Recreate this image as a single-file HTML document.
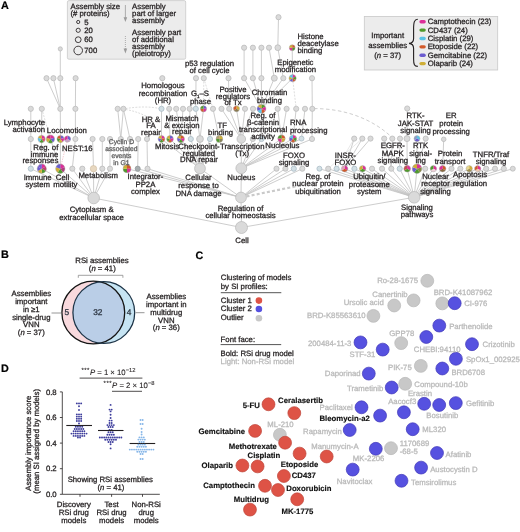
<!DOCTYPE html>
<html><head><meta charset="utf-8"><title>Figure</title><style>
html,body{margin:0;padding:0;background:#fff;}
body{width:520px;height:532px;overflow:hidden;}
svg{display:block;}
text{font-family:"Liberation Sans",Arial,Helvetica,sans-serif;font-size:7.75px;text-rendering:geometricPrecision;fill:#231f20;stroke:#231f20;stroke-width:0.28px;}
text.lab{font-size:10.8px;font-weight:bold;fill:#000;stroke:#000;stroke-width:0.2px;}
text.lt{fill:#b9b9b9;stroke:#b9b9b9;}
text.bd{font-weight:bold;fill:#111;stroke:#111;stroke-width:0.15px;}
text.pv{stroke-width:0.1px;}
text.vn{font-size:8.3px;fill:#2b3440;stroke:#2b3440;}
text.g6{fill:#606060;stroke:#606060;font-size:6.8px;}
.e{stroke:#c4c4c4;stroke-width:0.85;fill:none;}
.ef{stroke:#dadada;stroke-width:0.6;fill:none;}
.ep{stroke:#efb8c0;stroke-width:0.7;fill:none;stroke-dasharray:1.5 1;}
.ed{stroke:#cfcfcf;stroke-width:0.7;fill:none;stroke-dasharray:2 1.3;}
.ed2{stroke:#c8c8c8;stroke-width:0.9;fill:none;stroke-dasharray:3.5 2.5;}
.edt{stroke:#cacaca;stroke-width:2.2;fill:none;stroke-dasharray:3 2.2;}
.n{fill:#dadada;stroke:#b9b9b9;stroke-width:0.75;}
.nb{fill:#d3e0e5;stroke:#a8bac4;stroke-width:0.75;}
.nt{fill:#e8d8c0;stroke:#cdbba0;stroke-width:0.6;}
.nd{fill:#a8aeb0;stroke:#8a9092;stroke-width:0.6;}
.pr{fill:none;stroke:#9a9a9a;stroke-width:0.4;}
.box{fill:#ececec;stroke:#c9c9c9;stroke-width:0.8;}
.lc{fill:none;stroke:#231f20;stroke-width:0.85;}
.ar{stroke:#9a9a9a;stroke-width:0.8;}
.ard{stroke:#9a9a9a;stroke-width:0.8;stroke-dasharray:1 1;}
.brace{fill:none;stroke:#231f20;stroke-width:1.1;}
.brk{fill:none;stroke:#8a8a8a;stroke-width:0.8;}
.bl{stroke:#8a8a8a;stroke-width:0.9;}
.ul{stroke:#555;stroke-width:1;}
.ax{stroke:#231f20;stroke-width:0.8;}
.med{stroke:#231f20;stroke-width:1.1;}
</style></head>
<body><svg width="520" height="532" viewBox="0 0 520 532">
<rect width="520" height="532" fill="#fff"/>
<text x="0.9" y="8.9" class="lab">A</text>
<g>
<line x1="278.5" y1="17.2" x2="277.8" y2="47.7" class="e"/>
<line x1="60.3" y1="48.9" x2="60.3" y2="78.2" class="e"/>
<line x1="244.1" y1="47.7" x2="244.1" y2="78.2" class="e"/>
<line x1="252.9" y1="47.7" x2="252.9" y2="78.2" class="e"/>
<line x1="261.4" y1="47.7" x2="261.4" y2="78.2" class="e"/>
<line x1="269.0" y1="47.7" x2="274.3" y2="78.2" class="e"/>
<line x1="277.8" y1="47.7" x2="283.3" y2="78.2" class="e"/>
<line x1="292.2" y1="47.7" x2="292.6" y2="78.2" class="e"/>
<line x1="46.5" y1="78.2" x2="60.3" y2="108.8" class="e"/>
<line x1="53.4" y1="78.2" x2="60.3" y2="108.8" class="e"/>
<line x1="60.3" y1="78.2" x2="60.3" y2="108.8" class="e"/>
<line x1="75.6" y1="78.2" x2="75.4" y2="108.8" class="e"/>
<line x1="162.3" y1="78.2" x2="161.5" y2="108.8" class="ef"/>
<line x1="196.0" y1="78.2" x2="195.8" y2="108.8" class="e"/>
<line x1="203.8" y1="78.2" x2="203.5" y2="108.8" class="ed"/>
<line x1="203.8" y1="78.2" x2="213.0" y2="108.8" class="ed"/>
<line x1="228.5" y1="78.2" x2="229.2" y2="108.8" class="e"/>
<line x1="244.1" y1="78.2" x2="261.5" y2="108.8" class="e"/>
<line x1="252.9" y1="78.2" x2="261.5" y2="108.8" class="e"/>
<line x1="261.4" y1="78.2" x2="261.5" y2="108.8" class="e"/>
<line x1="274.3" y1="78.2" x2="261.5" y2="108.8" class="e"/>
<line x1="283.3" y1="78.2" x2="261.5" y2="108.8" class="e"/>
<line x1="292.6" y1="78.2" x2="261.5" y2="108.8" class="e"/>
<line x1="292.6" y1="78.2" x2="296.2" y2="108.8" class="ed"/>
<line x1="312.0" y1="78.2" x2="312.3" y2="108.8" class="e"/>
<line x1="30.8" y1="108.8" x2="30.8" y2="139.0" class="e"/>
<line x1="41.8" y1="108.8" x2="41.6" y2="139.0" class="e"/>
<line x1="41.8" y1="108.8" x2="50.4" y2="139.0" class="ed"/>
<line x1="60.3" y1="108.8" x2="60.5" y2="139.0" class="e"/>
<line x1="75.4" y1="108.8" x2="75.4" y2="139.0" class="e"/>
<line x1="117.7" y1="108.8" x2="120.8" y2="139.0" class="e"/>
<line x1="123.4" y1="108.8" x2="120.8" y2="139.0" class="e"/>
<line x1="123.4" y1="108.8" x2="130.0" y2="139.0" class="e"/>
<line x1="161.5" y1="108.8" x2="161.5" y2="139.0" class="e"/>
<line x1="169.2" y1="108.8" x2="170.0" y2="139.0" class="e"/>
<line x1="176.2" y1="108.8" x2="180.8" y2="139.0" class="e"/>
<line x1="183.0" y1="108.8" x2="180.8" y2="139.0" class="e"/>
<line x1="189.7" y1="108.8" x2="190.8" y2="139.0" class="e"/>
<line x1="195.8" y1="108.8" x2="200.0" y2="139.0" class="e"/>
<line x1="203.5" y1="108.8" x2="200.0" y2="139.0" class="e"/>
<line x1="213.0" y1="108.8" x2="219.4" y2="139.0" class="e"/>
<line x1="221.5" y1="108.8" x2="241.3" y2="139.0" class="e"/>
<line x1="229.2" y1="108.8" x2="241.3" y2="139.0" class="e"/>
<line x1="236.5" y1="108.8" x2="241.3" y2="139.0" class="e"/>
<line x1="245.0" y1="108.8" x2="241.3" y2="139.0" class="e"/>
<line x1="253.0" y1="108.8" x2="241.3" y2="139.0" class="e"/>
<line x1="261.5" y1="108.8" x2="261.5" y2="139.0" class="e"/>
<line x1="277.7" y1="108.8" x2="281.5" y2="138.6" class="e"/>
<line x1="286.6" y1="108.8" x2="281.5" y2="138.6" class="e"/>
<line x1="296.2" y1="108.8" x2="293.0" y2="138.6" class="e"/>
<line x1="305.0" y1="108.8" x2="301.5" y2="138.6" class="e"/>
<line x1="312.3" y1="108.8" x2="312.0" y2="139.0" class="e"/>
<line x1="407.2" y1="108.5" x2="407.0" y2="138.6" class="e"/>
<line x1="443.7" y1="139.3" x2="442.6" y2="168.7" class="e"/>
<line x1="354.2" y1="138.6" x2="336.6" y2="168.7" class="ef"/>
<line x1="354.2" y1="138.6" x2="344.6" y2="168.7" class="e"/>
<line x1="362.3" y1="138.6" x2="344.6" y2="168.7" class="e"/>
<line x1="370.5" y1="138.6" x2="344.6" y2="168.7" class="e"/>
<line x1="362.3" y1="138.6" x2="328.2" y2="168.7" class="ef"/>
<line x1="384.2" y1="138.6" x2="391.3" y2="168.7" class="e"/>
<line x1="392.3" y1="138.6" x2="391.3" y2="168.7" class="e"/>
<line x1="400.0" y1="138.6" x2="399.7" y2="168.7" class="e"/>
<line x1="407.0" y1="138.6" x2="407.2" y2="168.7" class="e"/>
<line x1="417.0" y1="138.6" x2="417.0" y2="168.7" class="e"/>
<line x1="425.7" y1="138.6" x2="417.0" y2="168.7" class="e"/>
<line x1="30.8" y1="139.0" x2="30.8" y2="168.7" class="e"/>
<line x1="41.6" y1="139.0" x2="41.8" y2="168.7" class="e"/>
<line x1="50.4" y1="139.0" x2="60.3" y2="168.7" class="e"/>
<line x1="60.5" y1="139.0" x2="60.3" y2="168.7" class="e"/>
<line x1="67.5" y1="139.0" x2="60.3" y2="168.7" class="ep"/>
<line x1="75.4" y1="139.0" x2="72.3" y2="168.7" class="e"/>
<line x1="92.6" y1="139.0" x2="93.5" y2="168.7" class="e"/>
<line x1="102.3" y1="139.0" x2="102.3" y2="168.7" class="e"/>
<line x1="110.0" y1="139.0" x2="110.0" y2="168.7" class="e"/>
<line x1="120.8" y1="139.0" x2="127.0" y2="168.7" class="e"/>
<line x1="130.0" y1="139.0" x2="127.0" y2="168.7" class="e"/>
<line x1="138.2" y1="139.0" x2="137.7" y2="168.7" class="e"/>
<line x1="147.0" y1="139.0" x2="147.5" y2="168.7" class="e"/>
<line x1="161.5" y1="139.0" x2="200.0" y2="168.5" class="e"/>
<line x1="170.0" y1="139.0" x2="200.0" y2="168.5" class="e"/>
<line x1="180.8" y1="139.0" x2="200.0" y2="168.5" class="e"/>
<line x1="190.8" y1="139.0" x2="200.0" y2="168.5" class="e"/>
<line x1="200.0" y1="139.0" x2="200.0" y2="168.5" class="e"/>
<line x1="210.0" y1="139.0" x2="200.0" y2="168.5" class="e"/>
<line x1="219.4" y1="139.0" x2="200.0" y2="168.5" class="e"/>
<line x1="241.3" y1="139.0" x2="241.3" y2="168.3" class="e"/>
<line x1="252.8" y1="139.0" x2="241.3" y2="168.3" class="e"/>
<line x1="261.5" y1="139.0" x2="241.3" y2="168.3" class="e"/>
<line x1="281.5" y1="138.6" x2="241.3" y2="168.3" class="e"/>
<line x1="293.0" y1="138.6" x2="241.3" y2="168.3" class="e"/>
<line x1="301.5" y1="138.6" x2="241.3" y2="168.3" class="e"/>
<line x1="312.0" y1="139.0" x2="241.3" y2="168.3" class="e"/>
<line x1="30.8" y1="168.7" x2="93.7" y2="198.0" class="e"/>
<line x1="41.8" y1="168.7" x2="93.7" y2="198.0" class="e"/>
<line x1="60.3" y1="168.7" x2="93.7" y2="198.0" class="e"/>
<line x1="72.3" y1="168.7" x2="93.7" y2="198.0" class="e"/>
<line x1="82.3" y1="168.7" x2="93.7" y2="198.0" class="e"/>
<line x1="93.5" y1="168.7" x2="93.7" y2="198.0" class="e"/>
<line x1="102.3" y1="168.7" x2="93.7" y2="198.0" class="e"/>
<line x1="110.0" y1="168.7" x2="93.7" y2="198.0" class="e"/>
<line x1="127.0" y1="168.7" x2="241.0" y2="197.5" class="e"/>
<line x1="137.7" y1="168.7" x2="241.0" y2="197.5" class="e"/>
<line x1="147.5" y1="168.7" x2="241.0" y2="197.5" class="e"/>
<line x1="276.5" y1="168.7" x2="241.0" y2="197.5" class="e"/>
<line x1="285.4" y1="168.7" x2="241.0" y2="197.5" class="e"/>
<line x1="293.8" y1="168.7" x2="241.0" y2="197.5" class="e"/>
<line x1="302.3" y1="168.7" x2="241.0" y2="197.5" class="e"/>
<line x1="200.0" y1="168.5" x2="241.0" y2="197.5" class="e"/>
<line x1="241.3" y1="168.3" x2="241.0" y2="197.5" class="e"/>
<line x1="319.4" y1="168.7" x2="414.2" y2="197.3" class="e"/>
<line x1="328.2" y1="168.7" x2="414.2" y2="197.3" class="e"/>
<line x1="336.6" y1="168.7" x2="414.2" y2="197.3" class="e"/>
<line x1="344.6" y1="168.7" x2="414.2" y2="197.3" class="e"/>
<line x1="354.4" y1="168.7" x2="414.2" y2="197.3" class="e"/>
<line x1="362.6" y1="168.7" x2="414.2" y2="197.3" class="e"/>
<line x1="372.0" y1="168.7" x2="414.2" y2="197.3" class="e"/>
<line x1="382.0" y1="168.7" x2="414.2" y2="197.3" class="e"/>
<line x1="391.3" y1="168.7" x2="414.2" y2="197.3" class="e"/>
<line x1="399.7" y1="168.7" x2="414.2" y2="197.3" class="e"/>
<line x1="407.2" y1="168.7" x2="414.2" y2="197.3" class="e"/>
<line x1="417.0" y1="168.7" x2="414.2" y2="197.3" class="e"/>
<line x1="425.2" y1="168.7" x2="414.2" y2="197.3" class="e"/>
<line x1="433.4" y1="168.7" x2="414.2" y2="197.3" class="e"/>
<line x1="442.6" y1="168.7" x2="414.2" y2="197.3" class="e"/>
<line x1="451.5" y1="168.7" x2="414.2" y2="197.3" class="e"/>
<line x1="460.3" y1="168.7" x2="414.2" y2="197.3" class="e"/>
<line x1="469.2" y1="168.7" x2="414.2" y2="197.3" class="e"/>
<line x1="477.7" y1="168.7" x2="414.2" y2="197.3" class="e"/>
<line x1="486.2" y1="168.7" x2="414.2" y2="197.3" class="e"/>
<line x1="495.0" y1="168.7" x2="414.2" y2="197.3" class="e"/>
<line x1="503.8" y1="168.7" x2="414.2" y2="197.3" class="e"/>
<line x1="512.8" y1="168.7" x2="414.2" y2="197.3" class="e"/>
<line x1="241.0" y1="197.5" x2="241.5" y2="227.5" class="e"/>
<line x1="93.7" y1="198.0" x2="241.5" y2="227.5" class="e"/>
<line x1="414.2" y1="197.3" x2="241.5" y2="227.5" class="e"/>
<path d="M125.5 108.6 C 138 106.5, 150 106.5, 159 108.4" class="ed"/>
<path d="M125.5 109.5 C 135 111, 142 114, 150 118" class="ed"/>
<path d="M314 108.6 C 345 108.5, 372 119, 391 136.5" class="ed2"/>
<line x1="246.5" y1="196.4" x2="301" y2="185.3" class="edt"/>
</g>
<circle cx="278.5" cy="17.2" r="2.60" class="n"/>
<circle cx="60.3" cy="48.9" r="2.10" class="n"/>
<circle cx="244.1" cy="47.7" r="2.60" class="n"/>
<circle cx="252.9" cy="47.7" r="2.60" class="n"/>
<circle cx="261.4" cy="47.7" r="2.60" class="n"/>
<circle cx="269.0" cy="47.7" r="2.60" class="n"/>
<circle cx="277.8" cy="47.7" r="2.90" class="n"/>
<path d="M292.20 47.70L292.20 44.80A2.90 2.90 0 0 1 295.10 47.70Z" fill="#d25a2a"/>
<path d="M292.20 47.70L295.10 47.70A2.90 2.90 0 0 1 292.20 50.60Z" fill="#4f9a2c"/>
<path d="M292.20 47.70L292.20 50.60A2.90 2.90 0 0 1 289.30 47.70Z" fill="#dc2f98"/>
<path d="M292.20 47.70L289.30 47.70A2.90 2.90 0 0 1 292.20 44.80Z" fill="#cfae36"/>
<circle cx="292.2" cy="47.7" r="2.90" class="pr"/>
<circle cx="46.5" cy="78.2" r="2.60" class="n"/>
<circle cx="53.4" cy="78.2" r="2.60" class="n"/>
<circle cx="60.3" cy="78.2" r="2.60" class="n"/>
<circle cx="75.6" cy="78.2" r="2.60" class="n"/>
<circle cx="162.3" cy="78.2" r="2.60" class="n"/>
<circle cx="196.0" cy="78.2" r="2.60" class="n"/>
<circle cx="203.8" cy="78.2" r="2.60" class="n"/>
<circle cx="228.5" cy="78.2" r="2.60" class="n"/>
<circle cx="244.1" cy="78.2" r="2.60" class="n"/>
<circle cx="252.9" cy="78.2" r="2.60" class="n"/>
<circle cx="261.4" cy="78.2" r="2.60" class="n"/>
<circle cx="274.3" cy="78.2" r="3.00" class="n"/>
<circle cx="283.3" cy="78.2" r="2.60" class="n"/>
<path d="M292.60 78.20L292.60 74.60A3.60 3.60 0 0 1 295.72 76.40Z" fill="#dc2f98"/>
<path d="M292.60 78.20L295.72 76.40A3.60 3.60 0 0 1 295.72 80.00Z" fill="#4f9a2c"/>
<path d="M292.60 78.20L295.72 80.00A3.60 3.60 0 0 1 292.60 81.80Z" fill="#d25a2a"/>
<path d="M292.60 78.20L292.60 81.80A3.60 3.60 0 0 1 289.48 80.00Z" fill="#6b5ccf"/>
<path d="M292.60 78.20L289.48 80.00A3.60 3.60 0 0 1 289.48 76.40Z" fill="#cfae36"/>
<path d="M292.60 78.20L289.48 76.40A3.60 3.60 0 0 1 292.60 74.60Z" fill="#5ac4e6"/>
<circle cx="292.6" cy="78.2" r="3.60" class="pr"/>
<circle cx="312.0" cy="78.2" r="2.60" class="n"/>
<circle cx="30.8" cy="108.8" r="2.60" class="n"/>
<circle cx="41.8" cy="108.8" r="2.60" class="n"/>
<circle cx="60.3" cy="108.8" r="2.60" class="n"/>
<circle cx="75.4" cy="108.8" r="2.60" class="n"/>
<circle cx="117.7" cy="108.8" r="2.60" class="n"/>
<circle cx="123.4" cy="108.8" r="2.60" class="n"/>
<circle cx="161.5" cy="108.8" r="2.60" class="nb"/>
<circle cx="169.2" cy="108.8" r="2.60" class="n"/>
<circle cx="176.2" cy="108.8" r="2.60" class="n"/>
<circle cx="183.0" cy="108.8" r="2.60" class="n"/>
<circle cx="189.7" cy="108.8" r="2.60" class="n"/>
<circle cx="195.8" cy="108.8" r="2.60" class="nb"/>
<path d="M203.50 108.80L203.50 105.70A3.10 3.10 0 0 1 206.60 108.80Z" fill="#6b5ccf"/>
<path d="M203.50 108.80L206.60 108.80A3.10 3.10 0 0 1 203.50 111.90Z" fill="#dc2f98"/>
<path d="M203.50 108.80L203.50 111.90A3.10 3.10 0 0 1 200.40 108.80Z" fill="#d25a2a"/>
<path d="M203.50 108.80L200.40 108.80A3.10 3.10 0 0 1 203.50 105.70Z" fill="#4f9a2c"/>
<circle cx="203.5" cy="108.8" r="3.10" class="pr"/>
<circle cx="213.0" cy="108.8" r="2.60" class="n"/>
<circle cx="221.5" cy="108.8" r="2.60" class="n"/>
<circle cx="229.2" cy="108.8" r="2.60" class="n"/>
<path d="M236.50 108.80L236.50 105.80A3.00 3.00 0 0 1 239.10 110.30Z" fill="#cfae36"/>
<path d="M236.50 108.80L239.10 110.30A3.00 3.00 0 0 1 233.90 110.30Z" fill="#8a7a50"/>
<path d="M236.50 108.80L233.90 110.30A3.00 3.00 0 0 1 236.50 105.80Z" fill="#d25a2a"/>
<circle cx="236.5" cy="108.8" r="3.00" class="pr"/>
<circle cx="245.0" cy="108.8" r="2.60" class="n"/>
<circle cx="253.0" cy="108.8" r="2.60" class="n"/>
<path d="M261.50 108.80L261.50 104.40A4.40 4.40 0 0 1 265.31 106.60Z" fill="#4f9a2c"/>
<path d="M261.50 108.80L265.31 106.60A4.40 4.40 0 0 1 265.31 111.00Z" fill="#dc2f98"/>
<path d="M261.50 108.80L265.31 111.00A4.40 4.40 0 0 1 261.50 113.20Z" fill="#d25a2a"/>
<path d="M261.50 108.80L261.50 113.20A4.40 4.40 0 0 1 257.69 111.00Z" fill="#5ac4e6"/>
<path d="M261.50 108.80L257.69 111.00A4.40 4.40 0 0 1 257.69 106.60Z" fill="#6b5ccf"/>
<path d="M261.50 108.80L257.69 106.60A4.40 4.40 0 0 1 261.50 104.40Z" fill="#cfae36"/>
<circle cx="261.5" cy="108.8" r="4.40" class="pr"/>
<circle cx="277.7" cy="108.8" r="2.60" class="n"/>
<circle cx="286.6" cy="108.8" r="2.60" class="n"/>
<circle cx="296.2" cy="108.8" r="2.60" class="n"/>
<circle cx="305.0" cy="108.8" r="2.60" class="n"/>
<circle cx="312.3" cy="108.8" r="2.60" class="n"/>
<circle cx="407.2" cy="108.5" r="2.60" class="n"/>
<circle cx="30.8" cy="139.0" r="2.60" class="n"/>
<path d="M41.60 139.00L41.60 135.30A3.70 3.70 0 0 1 45.12 137.86Z" fill="#dc2f98"/>
<path d="M41.60 139.00L45.12 137.86A3.70 3.70 0 0 1 43.77 141.99Z" fill="#e05070"/>
<path d="M41.60 139.00L43.77 141.99A3.70 3.70 0 0 1 39.43 141.99Z" fill="#4f9a2c"/>
<path d="M41.60 139.00L39.43 141.99A3.70 3.70 0 0 1 38.08 137.86Z" fill="#5ac4e6"/>
<path d="M41.60 139.00L38.08 137.86A3.70 3.70 0 0 1 41.60 135.30Z" fill="#cfae36"/>
<circle cx="41.6" cy="139.0" r="3.70" class="pr"/>
<path d="M50.40 139.00L50.40 134.90A4.10 4.10 0 0 1 54.30 137.73Z" fill="#dc2f98"/>
<path d="M50.40 139.00L54.30 137.73A4.10 4.10 0 0 1 52.81 142.32Z" fill="#6b5ccf"/>
<path d="M50.40 139.00L52.81 142.32A4.10 4.10 0 0 1 47.99 142.32Z" fill="#4f9a2c"/>
<path d="M50.40 139.00L47.99 142.32A4.10 4.10 0 0 1 46.50 137.73Z" fill="#cfae36"/>
<path d="M50.40 139.00L46.50 137.73A4.10 4.10 0 0 1 50.40 134.90Z" fill="#c03070"/>
<circle cx="50.4" cy="139.0" r="4.10" class="pr"/>
<path d="M60.50 139.00L60.50 135.40A3.60 3.60 0 0 1 63.92 137.89Z" fill="#6b5ccf"/>
<path d="M60.50 139.00L63.92 137.89A3.60 3.60 0 0 1 62.62 141.91Z" fill="#dc2f98"/>
<path d="M60.50 139.00L62.62 141.91A3.60 3.60 0 0 1 58.38 141.91Z" fill="#cfae36"/>
<path d="M60.50 139.00L58.38 141.91A3.60 3.60 0 0 1 57.08 137.89Z" fill="#4f9a2c"/>
<path d="M60.50 139.00L57.08 137.89A3.60 3.60 0 0 1 60.50 135.40Z" fill="#d25a2a"/>
<circle cx="60.5" cy="139.0" r="3.60" class="pr"/>
<path d="M67.50 139.00L67.50 135.80A3.20 3.20 0 0 1 70.27 140.60Z" fill="#6b5ccf"/>
<path d="M67.50 139.00L70.27 140.60A3.20 3.20 0 0 1 64.73 140.60Z" fill="#c8a0c8"/>
<path d="M67.50 139.00L64.73 140.60A3.20 3.20 0 0 1 67.50 135.80Z" fill="#dc2f98"/>
<circle cx="67.5" cy="139.0" r="3.20" class="pr"/>
<circle cx="75.4" cy="139.0" r="2.60" class="n"/>
<circle cx="92.6" cy="139.0" r="2.60" class="n"/>
<circle cx="102.3" cy="139.0" r="2.60" class="n"/>
<circle cx="110.0" cy="139.0" r="2.60" class="n"/>
<circle cx="120.8" cy="139.0" r="2.60" class="n"/>
<circle cx="130.0" cy="139.0" r="2.60" class="n"/>
<circle cx="138.2" cy="139.0" r="2.60" class="n"/>
<circle cx="147.0" cy="139.0" r="2.60" class="n"/>
<path d="M161.50 139.00L161.50 135.60A3.40 3.40 0 0 1 164.73 137.95Z" fill="#dc2f98"/>
<path d="M161.50 139.00L164.73 137.95A3.40 3.40 0 0 1 163.50 141.75Z" fill="#d25a2a"/>
<path d="M161.50 139.00L163.50 141.75A3.40 3.40 0 0 1 159.50 141.75Z" fill="#4f9a2c"/>
<path d="M161.50 139.00L159.50 141.75A3.40 3.40 0 0 1 158.27 137.95Z" fill="#6b5ccf"/>
<path d="M161.50 139.00L158.27 137.95A3.40 3.40 0 0 1 161.50 135.60Z" fill="#cfae36"/>
<circle cx="161.5" cy="139.0" r="3.40" class="pr"/>
<path d="M170.00 139.00L170.00 135.60A3.40 3.40 0 0 1 173.23 137.95Z" fill="#6b5ccf"/>
<path d="M170.00 139.00L173.23 137.95A3.40 3.40 0 0 1 172.00 141.75Z" fill="#dc2f98"/>
<path d="M170.00 139.00L172.00 141.75A3.40 3.40 0 0 1 168.00 141.75Z" fill="#d25a2a"/>
<path d="M170.00 139.00L168.00 141.75A3.40 3.40 0 0 1 166.77 137.95Z" fill="#4f9a2c"/>
<path d="M170.00 139.00L166.77 137.95A3.40 3.40 0 0 1 170.00 135.60Z" fill="#cfae36"/>
<circle cx="170.0" cy="139.0" r="3.40" class="pr"/>
<path d="M180.80 139.00L180.80 135.30A3.70 3.70 0 0 1 184.32 137.86Z" fill="#d25a2a"/>
<path d="M180.80 139.00L184.32 137.86A3.70 3.70 0 0 1 182.97 141.99Z" fill="#dc2f98"/>
<path d="M180.80 139.00L182.97 141.99A3.70 3.70 0 0 1 178.63 141.99Z" fill="#4f9a2c"/>
<path d="M180.80 139.00L178.63 141.99A3.70 3.70 0 0 1 177.28 137.86Z" fill="#6b5ccf"/>
<path d="M180.80 139.00L177.28 137.86A3.70 3.70 0 0 1 180.80 135.30Z" fill="#cfae36"/>
<circle cx="180.8" cy="139.0" r="3.70" class="pr"/>
<circle cx="190.8" cy="139.0" r="2.60" class="nb"/>
<circle cx="200.0" cy="139.0" r="3.40" class="n"/>
<circle cx="210.0" cy="139.0" r="2.60" class="nb"/>
<path d="M219.40 139.00L219.40 135.60A3.40 3.40 0 0 1 222.80 139.00Z" fill="#cfae36"/>
<path d="M219.40 139.00L222.80 139.00A3.40 3.40 0 0 1 219.40 142.40Z" fill="#8a8458"/>
<path d="M219.40 139.00L219.40 142.40A3.40 3.40 0 0 1 216.00 139.00Z" fill="#4f9a2c"/>
<path d="M219.40 139.00L216.00 139.00A3.40 3.40 0 0 1 219.40 135.60Z" fill="#b0a070"/>
<circle cx="219.4" cy="139.0" r="3.40" class="pr"/>
<circle cx="241.3" cy="139.0" r="4.30" class="n"/>
<circle cx="252.8" cy="139.0" r="2.60" class="n"/>
<circle cx="261.5" cy="139.0" r="2.60" class="nb"/>
<path d="M281.50 138.60L281.50 134.90A3.70 3.70 0 0 1 285.20 138.60Z" fill="#d25a2a"/>
<path d="M281.50 138.60L285.20 138.60A3.70 3.70 0 0 1 281.50 142.30Z" fill="#cfae36"/>
<path d="M281.50 138.60L281.50 142.30A3.70 3.70 0 0 1 277.80 138.60Z" fill="#dc2f98"/>
<path d="M281.50 138.60L277.80 138.60A3.70 3.70 0 0 1 281.50 134.90Z" fill="#4f9a2c"/>
<circle cx="281.5" cy="138.6" r="3.70" class="pr"/>
<path d="M293.00 138.60L293.00 134.90A3.70 3.70 0 0 1 296.52 137.46Z" fill="#dc2f98"/>
<path d="M293.00 138.60L296.52 137.46A3.70 3.70 0 0 1 295.17 141.59Z" fill="#4f9a2c"/>
<path d="M293.00 138.60L295.17 141.59A3.70 3.70 0 0 1 290.83 141.59Z" fill="#d25a2a"/>
<path d="M293.00 138.60L290.83 141.59A3.70 3.70 0 0 1 289.48 137.46Z" fill="#6b5ccf"/>
<path d="M293.00 138.60L289.48 137.46A3.70 3.70 0 0 1 293.00 134.90Z" fill="#5ac4e6"/>
<circle cx="293.0" cy="138.6" r="3.70" class="pr"/>
<circle cx="301.5" cy="138.6" r="2.50" class="nb"/>
<circle cx="312.0" cy="139.0" r="2.60" class="n"/>
<circle cx="354.2" cy="138.6" r="2.60" class="n"/>
<circle cx="362.3" cy="138.6" r="2.60" class="n"/>
<circle cx="370.5" cy="138.6" r="2.60" class="n"/>
<circle cx="384.2" cy="138.6" r="2.60" class="n"/>
<circle cx="392.3" cy="138.6" r="2.60" class="n"/>
<circle cx="400.0" cy="138.6" r="2.60" class="n"/>
<circle cx="407.0" cy="138.6" r="3.00" class="n"/>
<path d="M417.00 138.60L417.00 135.60A3.00 3.00 0 0 1 419.60 140.10Z" fill="#5ac4e6"/>
<path d="M417.00 138.60L419.60 140.10A3.00 3.00 0 0 1 414.40 140.10Z" fill="#6b5ccf"/>
<path d="M417.00 138.60L414.40 140.10A3.00 3.00 0 0 1 417.00 135.60Z" fill="#8aa0c8"/>
<circle cx="417.0" cy="138.6" r="3.00" class="pr"/>
<circle cx="425.7" cy="138.6" r="2.60" class="n"/>
<circle cx="443.7" cy="139.3" r="2.30" class="n"/>
<circle cx="30.8" cy="168.7" r="2.60" class="nb"/>
<path d="M41.80 168.70L41.80 164.10A4.60 4.60 0 0 1 45.78 166.40Z" fill="#dc2f98"/>
<path d="M41.80 168.70L45.78 166.40A4.60 4.60 0 0 1 45.78 171.00Z" fill="#c04070"/>
<path d="M41.80 168.70L45.78 171.00A4.60 4.60 0 0 1 41.80 173.30Z" fill="#4f9a2c"/>
<path d="M41.80 168.70L41.80 173.30A4.60 4.60 0 0 1 37.82 171.00Z" fill="#cfae36"/>
<path d="M41.80 168.70L37.82 171.00A4.60 4.60 0 0 1 37.82 166.40Z" fill="#6b5ccf"/>
<path d="M41.80 168.70L37.82 166.40A4.60 4.60 0 0 1 41.80 164.10Z" fill="#7a5ad0"/>
<circle cx="41.8" cy="168.7" r="4.60" class="pr"/>
<path d="M60.30 168.70L60.30 164.10A4.60 4.60 0 0 1 64.67 167.28Z" fill="#dc2f98"/>
<path d="M60.30 168.70L64.67 167.28A4.60 4.60 0 0 1 63.00 172.42Z" fill="#b03a80"/>
<path d="M60.30 168.70L63.00 172.42A4.60 4.60 0 0 1 57.60 172.42Z" fill="#4f9a2c"/>
<path d="M60.30 168.70L57.60 172.42A4.60 4.60 0 0 1 55.93 167.28Z" fill="#cfae36"/>
<path d="M60.30 168.70L55.93 167.28A4.60 4.60 0 0 1 60.30 164.10Z" fill="#6b5ccf"/>
<circle cx="60.3" cy="168.7" r="4.60" class="pr"/>
<circle cx="72.3" cy="168.7" r="2.60" class="n"/>
<circle cx="82.3" cy="168.7" r="2.60" class="n"/>
<circle cx="93.5" cy="168.7" r="3.20" class="nt"/>
<circle cx="102.3" cy="168.7" r="2.60" class="n"/>
<circle cx="110.0" cy="168.7" r="2.60" class="n"/>
<path d="M127.00 168.70L127.00 164.70A4.00 4.00 0 0 1 131.00 168.70Z" fill="#d25a2a"/>
<path d="M127.00 168.70L131.00 168.70A4.00 4.00 0 0 1 127.00 172.70Z" fill="#dc2f98"/>
<path d="M127.00 168.70L127.00 172.70A4.00 4.00 0 0 1 123.00 168.70Z" fill="#4f9a2c"/>
<path d="M127.00 168.70L123.00 168.70A4.00 4.00 0 0 1 127.00 164.70Z" fill="#cfae36"/>
<circle cx="127.0" cy="168.7" r="4.00" class="pr"/>
<circle cx="137.7" cy="168.7" r="2.60" class="nd"/>
<circle cx="147.5" cy="168.7" r="2.60" class="n"/>
<circle cx="276.5" cy="168.7" r="2.60" class="n"/>
<circle cx="285.4" cy="168.7" r="2.60" class="n"/>
<circle cx="293.8" cy="168.7" r="2.60" class="nb"/>
<circle cx="302.3" cy="168.7" r="2.60" class="n"/>
<circle cx="319.4" cy="168.7" r="2.50" class="nb"/>
<circle cx="328.2" cy="168.7" r="2.60" class="n"/>
<circle cx="336.6" cy="168.7" r="2.60" class="nb"/>
<path d="M344.60 168.70L344.60 165.50A3.20 3.20 0 0 1 347.37 170.30Z" fill="#dc2f98"/>
<path d="M344.60 168.70L347.37 170.30A3.20 3.20 0 0 1 341.83 170.30Z" fill="#d25a2a"/>
<path d="M344.60 168.70L341.83 170.30A3.20 3.20 0 0 1 344.60 165.50Z" fill="#e0a0b8"/>
<circle cx="344.6" cy="168.7" r="3.20" class="pr"/>
<circle cx="354.4" cy="168.7" r="2.60" class="nb"/>
<path d="M362.60 168.70L362.60 165.50A3.20 3.20 0 0 1 365.37 170.30Z" fill="#dc2f98"/>
<path d="M362.60 168.70L365.37 170.30A3.20 3.20 0 0 1 359.83 170.30Z" fill="#4f9a2c"/>
<path d="M362.60 168.70L359.83 170.30A3.20 3.20 0 0 1 362.60 165.50Z" fill="#cfae36"/>
<circle cx="362.6" cy="168.7" r="3.20" class="pr"/>
<circle cx="372.0" cy="168.7" r="2.60" class="n"/>
<circle cx="382.0" cy="168.7" r="2.60" class="n"/>
<circle cx="391.3" cy="168.7" r="2.60" class="n"/>
<circle cx="399.7" cy="168.7" r="2.60" class="nb"/>
<path d="M407.20 168.70L407.20 165.30A3.40 3.40 0 0 1 410.14 170.40Z" fill="#dc2f98"/>
<path d="M407.20 168.70L410.14 170.40A3.40 3.40 0 0 1 404.26 170.40Z" fill="#4f9a2c"/>
<path d="M407.20 168.70L404.26 170.40A3.40 3.40 0 0 1 407.20 165.30Z" fill="#c05050"/>
<circle cx="407.2" cy="168.7" r="3.40" class="pr"/>
<path d="M417.00 168.70L417.00 164.00A4.70 4.70 0 0 1 421.47 167.25Z" fill="#dc2f98"/>
<path d="M417.00 168.70L421.47 167.25A4.70 4.70 0 0 1 419.76 172.50Z" fill="#8a8a40"/>
<path d="M417.00 168.70L419.76 172.50A4.70 4.70 0 0 1 414.24 172.50Z" fill="#4f9a2c"/>
<path d="M417.00 168.70L414.24 172.50A4.70 4.70 0 0 1 412.53 167.25Z" fill="#6b5ccf"/>
<path d="M417.00 168.70L412.53 167.25A4.70 4.70 0 0 1 417.00 164.00Z" fill="#cfae36"/>
<circle cx="417.0" cy="168.7" r="4.70" class="pr"/>
<circle cx="425.2" cy="168.7" r="2.60" class="n"/>
<path d="M433.40 168.70L433.40 165.50A3.20 3.20 0 0 1 436.17 170.30Z" fill="#dc2f98"/>
<path d="M433.40 168.70L436.17 170.30A3.20 3.20 0 0 1 430.63 170.30Z" fill="#f0d0d8"/>
<path d="M433.40 168.70L430.63 170.30A3.20 3.20 0 0 1 433.40 165.50Z" fill="#4f9a2c"/>
<circle cx="433.4" cy="168.7" r="3.20" class="pr"/>
<path d="M442.60 168.70L442.60 165.40A3.30 3.30 0 0 1 445.46 170.35Z" fill="#d25a2a"/>
<path d="M442.60 168.70L445.46 170.35A3.30 3.30 0 0 1 439.74 170.35Z" fill="#8a6a40"/>
<path d="M442.60 168.70L439.74 170.35A3.30 3.30 0 0 1 442.60 165.40Z" fill="#dc2f98"/>
<circle cx="442.6" cy="168.7" r="3.30" class="pr"/>
<circle cx="451.5" cy="168.7" r="2.60" class="n"/>
<circle cx="460.3" cy="168.7" r="2.60" class="n"/>
<path d="M469.20 168.70L469.20 165.50A3.20 3.20 0 0 1 471.97 170.30Z" fill="#cfae36"/>
<path d="M469.20 168.70L471.97 170.30A3.20 3.20 0 0 1 466.43 170.30Z" fill="#a09050"/>
<path d="M469.20 168.70L466.43 170.30A3.20 3.20 0 0 1 469.20 165.50Z" fill="#e8d890"/>
<circle cx="469.2" cy="168.7" r="3.20" class="pr"/>
<path d="M477.70 168.70L477.70 165.60A3.10 3.10 0 0 1 480.38 170.25Z" fill="#dc2f98"/>
<path d="M477.70 168.70L480.38 170.25A3.10 3.10 0 0 1 475.02 170.25Z" fill="#f0c8b0"/>
<path d="M477.70 168.70L475.02 170.25A3.10 3.10 0 0 1 477.70 165.60Z" fill="#d25a2a"/>
<circle cx="477.7" cy="168.7" r="3.10" class="pr"/>
<circle cx="486.2" cy="168.7" r="2.60" class="n"/>
<circle cx="495.0" cy="168.7" r="2.60" class="n"/>
<circle cx="503.8" cy="168.7" r="2.60" class="n"/>
<circle cx="512.8" cy="168.7" r="2.50" class="n"/>
<circle cx="93.7" cy="198.0" r="5.80" class="n"/>
<circle cx="200.0" cy="168.5" r="5.40" class="n"/>
<circle cx="241.3" cy="168.3" r="5.40" class="n"/>
<circle cx="241.0" cy="197.5" r="5.40" class="n"/>
<circle cx="241.5" cy="227.5" r="6.00" class="n"/>
<circle cx="414.2" cy="197.3" r="5.80" class="n"/>
<text x="45.2" y="125.1" text-anchor="end">Lymphocyte</text>
<text x="45.2" y="131.7" text-anchor="end">activation</text>
<text x="66.9" y="132.8" text-anchor="middle">Locomotion</text>
<text x="58.3" y="149.7" text-anchor="end">Reg. of</text>
<text x="58.3" y="156.5" text-anchor="end">immune</text>
<text x="58.3" y="163.3" text-anchor="end">responses</text>
<text x="62.0" y="151.2">NEST:16</text>
<text x="37.7" y="180.2" text-anchor="middle">Immune</text>
<text x="37.7" y="187.1" text-anchor="middle">system</text>
<text x="62.5" y="180.2" text-anchor="middle">Cell</text>
<text x="65.4" y="187.1" text-anchor="middle">motility</text>
<text x="98.2" y="178.4" text-anchor="middle">Metabolism</text>
<text x="121.4" y="144.4" text-anchor="middle" class="g6">Cyclin D</text>
<text x="121.4" y="151.2" text-anchor="middle" class="g6">associated</text>
<text x="121.4" y="158.1" text-anchor="middle" class="g6">events</text>
<text x="121.4" y="165.0" text-anchor="middle" class="g6">in G1</text>
<text x="145.4" y="178.6" text-anchor="middle">Integrator-</text>
<text x="145.4" y="186.5" text-anchor="middle">PP2A</text>
<text x="145.4" y="194.4" text-anchor="middle">complex</text>
<text x="91.6" y="212.4" text-anchor="middle">Cytoplasm &amp;</text>
<text x="91.6" y="220.4" text-anchor="middle">extracellular space</text>
<text x="163.0" y="87.6" text-anchor="middle">Homologous</text>
<text x="163.0" y="95.5" text-anchor="middle">recombination</text>
<text x="163.0" y="103.4" text-anchor="middle">(HR)</text>
<text x="209.5" y="66.1" text-anchor="middle">p53 regulation</text>
<text x="209.5" y="73.4" text-anchor="middle">of cell cycle</text>
<text x="200.0" y="96.1" text-anchor="middle">G<tspan font-size="4.6" dy="1.6">1</tspan><tspan dy="-1.6">–S</tspan></text>
<text x="200.5" y="103.9" text-anchor="middle">phase</text>
<text x="233.0" y="91.8" text-anchor="middle">Positive</text>
<text x="233.0" y="98.6" text-anchor="middle">regulators</text>
<text x="233.0" y="105.4" text-anchor="middle">of Tx</text>
<text x="151.0" y="122.2" text-anchor="middle">HR &amp;</text>
<text x="151.0" y="128.4" text-anchor="middle">FA</text>
<text x="151.0" y="134.6" text-anchor="middle">repair</text>
<text x="182.0" y="121.1" text-anchor="middle">Mismatch</text>
<text x="182.0" y="127.6" text-anchor="middle">&amp; excision</text>
<text x="182.0" y="134.1" text-anchor="middle">repair</text>
<text x="222.2" y="127.8" text-anchor="middle">TF</text>
<text x="220.6" y="134.5" text-anchor="middle">binding</text>
<text x="167.0" y="148.9" text-anchor="middle">Mitosis</text>
<text x="199.0" y="148.8" text-anchor="middle">Checkpoint-</text>
<text x="199.0" y="155.5" text-anchor="middle">regulated</text>
<text x="199.0" y="162.2" text-anchor="middle">DNA repair</text>
<text x="242.2" y="148.8" text-anchor="middle">Transcription</text>
<text x="242.2" y="155.7" text-anchor="middle">(Tx)</text>
<text x="269.5" y="94.9" text-anchor="middle">Chromatin</text>
<text x="269.5" y="102.9" text-anchor="middle">binding</text>
<text x="263.0" y="118.0" text-anchor="middle">Reg. of</text>
<text x="263.0" y="124.9" text-anchor="middle">β-catenin</text>
<text x="263.0" y="131.8" text-anchor="middle">transcriptional</text>
<text x="263.0" y="138.7" text-anchor="middle">activity</text>
<text x="290.0" y="125.4">RNA</text>
<text x="290.0" y="133.4">processing</text>
<text x="282.3" y="148.4" text-anchor="middle">Nucleolus</text>
<text x="294.0" y="158.0" text-anchor="middle">FOXO</text>
<text x="294.0" y="164.6" text-anchor="middle">signaling</text>
<text x="318.0" y="178.8" text-anchor="middle">Reg. of</text>
<text x="318.0" y="186.3" text-anchor="middle">nuclear protein</text>
<text x="318.0" y="193.8" text-anchor="middle">ubiquitination</text>
<text x="345.4" y="158.0" text-anchor="middle">INSR-</text>
<text x="345.4" y="164.6" text-anchor="middle">FOXO</text>
<text x="369.3" y="178.8" text-anchor="middle">Ubiquitin/</text>
<text x="369.3" y="186.5" text-anchor="middle">proteasome</text>
<text x="369.3" y="194.2" text-anchor="middle">system</text>
<text x="392.8" y="148.4" text-anchor="middle">EGFR-</text>
<text x="392.8" y="155.9" text-anchor="middle">MAPK</text>
<text x="392.8" y="163.4" text-anchor="middle">signaling</text>
<text x="420.6" y="148.4" text-anchor="middle">RTK</text>
<text x="420.6" y="155.9" text-anchor="middle">signal-</text>
<text x="420.6" y="163.4" text-anchor="middle">ing</text>
<text x="415.6" y="117.6" text-anchor="middle">RTK-</text>
<text x="415.6" y="125.5" text-anchor="middle">JAK-STAT</text>
<text x="415.6" y="133.4" text-anchor="middle">signaling</text>
<text x="451.2" y="117.8" text-anchor="middle">ER</text>
<text x="451.2" y="125.8" text-anchor="middle">protein</text>
<text x="451.2" y="133.7" text-anchor="middle">processing</text>
<text x="450.0" y="155.6" text-anchor="middle">Protein</text>
<text x="450.0" y="163.6" text-anchor="middle">transport</text>
<text x="491.0" y="156.6" text-anchor="middle">TNFR/Traf</text>
<text x="491.0" y="164.1" text-anchor="middle">signaling</text>
<text x="470.0" y="177.2" text-anchor="middle">Apoptosis</text>
<text x="470.0" y="185.6" text-anchor="middle">regulation</text>
<text x="435.5" y="178.8" text-anchor="middle">Nuclear</text>
<text x="435.5" y="186.4" text-anchor="middle">receptor</text>
<text x="435.5" y="194.1" text-anchor="middle">signaling</text>
<text x="297.4" y="38.8">Histone</text>
<text x="297.4" y="45.7">deacetylase</text>
<text x="297.4" y="52.6">binding</text>
<text x="295.4" y="64.9" text-anchor="middle">Epigenetic</text>
<text x="295.4" y="72.3" text-anchor="middle">modification</text>
<text x="198.5" y="180.3" text-anchor="middle">Cellular</text>
<text x="198.5" y="188.0" text-anchor="middle">response to</text>
<text x="198.5" y="195.7" text-anchor="middle">DNA damage</text>
<text x="241.3" y="180.3" text-anchor="middle">Nucleus</text>
<text x="240.5" y="210.6" text-anchor="middle">Regulation of</text>
<text x="240.5" y="217.8" text-anchor="middle">cellular homeostasis</text>
<text x="242.0" y="242.6" text-anchor="middle">Cell</text>
<text x="417.0" y="209.6" text-anchor="middle">Signaling</text>
<text x="417.0" y="217.2" text-anchor="middle">pathways</text>
<rect x="67.4" y="0.6" width="118.3" height="58.6" rx="1.5" class="box"/>
<text x="70.5" y="9.1">Assembly size</text>
<text x="70.5" y="16.1">(# proteins)</text>
<circle cx="78.2" cy="22.0" r="1.6" class="lc"/>
<text x="84.3" y="24.6">5</text>
<circle cx="78.2" cy="30.3" r="2.1" class="lc"/>
<text x="84.3" y="32.9">20</text>
<circle cx="78.2" cy="39.7" r="2.9" class="lc"/>
<text x="84.3" y="42.3">60</text>
<circle cx="78.2" cy="50.5" r="4.3" class="lc"/>
<text x="84.3" y="53.1">700</text>
<text x="132.1" y="9.0">Assembly</text>
<text x="132.1" y="16.1">part of larger</text>
<text x="132.1" y="23.1">assembly</text>
<text x="132.1" y="34.8">Assembly part</text>
<text x="132.1" y="41.8">of additional</text>
<text x="132.1" y="48.8">assembly</text>
<text x="132.1" y="55.8">(pleiotropy)</text>
<line x1="125.4" y1="5" x2="125.4" y2="19" class="ar"/>
<path d="M123.6 17.2 L125.4 22 L127.2 17.2 Z" fill="#9a9a9a"/>
<line x1="125.4" y1="36" x2="125.4" y2="50" class="ard"/>
<path d="M123.6 48.6 L125.4 53.4 L127.2 48.6 Z" fill="#9a9a9a"/>
<rect x="364.3" y="16.5" width="133.4" height="53.5" class="box"/>
<text x="387.7" y="38.0" text-anchor="middle">Important</text>
<text x="387.7" y="47.6" text-anchor="middle">assemblies</text>
<text x="387.7" y="57.5" text-anchor="middle">(<tspan font-style="italic">n</tspan> = 37)</text>
<path d="M417.8 19.2 C 414.3 19.5, 413.6 22, 413.6 29 L 413.6 38.5 C 413.6 41.6, 411.6 43.2, 409 43.4 C 411.6 43.6, 413.6 45.3, 413.6 48.5 L 413.6 59 C 413.6 64.5, 414.3 66.2, 417.8 66.4" class="brace"/>
<rect x="419.4" y="20.00" width="6.4" height="3.4" rx="1.7" fill="#dc2f98"/>
<text x="427.7" y="24.3">Camptothecin (23)</text>
<rect x="419.4" y="28.38" width="6.4" height="3.4" rx="1.7" fill="#4f9a2c"/>
<text x="427.7" y="32.7">CD437 (24)</text>
<rect x="419.4" y="36.76" width="6.4" height="3.4" rx="1.7" fill="#5ac4e6"/>
<text x="427.7" y="41.1">Cisplatin (29)</text>
<rect x="419.4" y="45.14" width="6.4" height="3.4" rx="1.7" fill="#d25a2a"/>
<text x="427.7" y="49.4">Etoposide (22)</text>
<rect x="419.4" y="53.52" width="6.4" height="3.4" rx="1.7" fill="#6b5ccf"/>
<text x="427.7" y="57.8">Gemcitabine (22)</text>
<rect x="419.4" y="61.90" width="6.4" height="3.4" rx="1.7" fill="#cfae36"/>
<text x="427.7" y="66.2">Olaparib (24)</text>
<text x="0.9" y="258.3" class="lab">B</text>
<text x="102.0" y="263.1" text-anchor="middle">RSi assemblies</text>
<text x="102.3" y="271.1" text-anchor="middle">(<tspan font-style="italic">n</tspan> = 41)</text>
<path d="M78.3 277.8 V275.3 H122.9 V277.8" class="brk"/>
<defs><clipPath id="cl"><circle cx="93.3" cy="312.5" r="31.4"/></clipPath></defs>
<circle cx="93.3" cy="312.5" r="31.4" fill="#f8d9dd"/>
<circle cx="103.8" cy="312.5" r="30.9" fill="#c6e4f3"/>
<circle cx="103.8" cy="312.5" r="30.9" fill="#bacee7" clip-path="url(#cl)"/>
<circle cx="93.3" cy="312.5" r="31.4" fill="none" stroke="#141414" stroke-width="1.3"/>
<circle cx="103.8" cy="312.5" r="30.9" fill="none" stroke="#1d3447" stroke-width="1.25"/>
<text x="66.8" y="314.9" text-anchor="middle" class="vn">5</text>
<text x="97.8" y="314.9" text-anchor="middle" class="vn">32</text>
<text x="129.0" y="314.9" text-anchor="middle" class="vn">4</text>
<line x1="51.5" y1="313.0" x2="61.5" y2="313.0" class="bl"/>
<line x1="135.6" y1="312.7" x2="144.5" y2="312.7" class="bl"/>
<text x="31.3" y="296.2" text-anchor="middle">Assemblies</text>
<text x="31.3" y="304.0" text-anchor="middle">important</text>
<text x="31.3" y="311.8" text-anchor="middle">in ≥1</text>
<text x="31.3" y="319.6" text-anchor="middle">single-drug</text>
<text x="31.3" y="327.4" text-anchor="middle">VNN</text>
<text x="31.3" y="335.2" text-anchor="middle">(<tspan font-style="italic">n</tspan> = 37)</text>
<text x="166.3" y="299.4" text-anchor="middle">Assemblies</text>
<text x="166.3" y="307.1" text-anchor="middle">important in</text>
<text x="166.3" y="314.8" text-anchor="middle">multidrug</text>
<text x="166.3" y="322.5" text-anchor="middle">VNN</text>
<text x="166.3" y="330.4" text-anchor="middle">(<tspan font-style="italic">n</tspan> = 36)</text>
<text x="195.6" y="258.6" class="lab">C</text>
<text x="220.8" y="279.6">Clustering of models</text>
<text x="220.8" y="288.8">by SI profiles:</text>
<line x1="220.8" y1="292.7" x2="281.3" y2="292.7" class="ul"/>
<text x="220.8" y="302.8">Cluster 1</text>
<circle cx="258.9" cy="300.6" r="3.3" fill="#de5346"/>
<text x="220.8" y="311.4">Cluster 2</text>
<circle cx="258.9" cy="309.0" r="3.3" fill="#5651e0"/>
<text x="220.8" y="320.2">Outlier</text>
<circle cx="258.9" cy="318.3" r="3.3" fill="#c8c8c8"/>
<text x="220.6" y="341.9">Font face:</text>
<line x1="220.6" y1="344.6" x2="281.2" y2="344.6" class="ul"/>
<text x="220.6" y="355.5">Bold: RSi drug model</text>
<text x="220.6" y="364.4" class="lt">Light: Non-RSi model</text>
<circle cx="427.3" cy="280.8" r="6.45" fill="#c8c8c8" stroke="#b8b8b8" stroke-width="0.7"/>
<circle cx="413.6" cy="300.4" r="6.45" fill="#c8c8c8" stroke="#b8b8b8" stroke-width="0.7"/>
<circle cx="394.2" cy="305.5" r="6.45" fill="#c8c8c8" stroke="#b8b8b8" stroke-width="0.7"/>
<circle cx="373.4" cy="315.9" r="6.45" fill="#c8c8c8" stroke="#b8b8b8" stroke-width="0.7"/>
<circle cx="442.3" cy="303.4" r="6.45" fill="#c8c8c8" stroke="#b8b8b8" stroke-width="0.7"/>
<circle cx="401.2" cy="343.1" r="6.45" fill="#c8c8c8" stroke="#b8b8b8" stroke-width="0.7"/>
<circle cx="420.8" cy="365.9" r="6.45" fill="#c8c8c8" stroke="#b8b8b8" stroke-width="0.7"/>
<circle cx="405.2" cy="383.8" r="6.45" fill="#c8c8c8" stroke="#b8b8b8" stroke-width="0.7"/>
<circle cx="391.0" cy="448.2" r="6.45" fill="#c8c8c8" stroke="#b8b8b8" stroke-width="0.7"/>
<circle cx="279.9" cy="434.8" r="6.45" fill="#c8c8c8" stroke="#b8b8b8" stroke-width="0.7"/>
<circle cx="454.7" cy="303.2" r="6.45" fill="#5651e0" stroke="#4038b8" stroke-width="0.7"/>
<circle cx="439.3" cy="325.6" r="6.45" fill="#5651e0" stroke="#4038b8" stroke-width="0.7"/>
<circle cx="426.3" cy="337.0" r="6.45" fill="#5651e0" stroke="#4038b8" stroke-width="0.7"/>
<circle cx="472.0" cy="344.2" r="6.45" fill="#5651e0" stroke="#4038b8" stroke-width="0.7"/>
<circle cx="455.9" cy="358.8" r="6.45" fill="#5651e0" stroke="#4038b8" stroke-width="0.7"/>
<circle cx="442.3" cy="368.5" r="6.45" fill="#5651e0" stroke="#4038b8" stroke-width="0.7"/>
<circle cx="360.5" cy="342.4" r="6.45" fill="#5651e0" stroke="#4038b8" stroke-width="0.7"/>
<circle cx="382.7" cy="349.6" r="6.45" fill="#5651e0" stroke="#4038b8" stroke-width="0.7"/>
<circle cx="368.8" cy="373.6" r="6.45" fill="#5651e0" stroke="#4038b8" stroke-width="0.7"/>
<circle cx="391.7" cy="387.5" r="6.45" fill="#5651e0" stroke="#4038b8" stroke-width="0.7"/>
<circle cx="424.2" cy="403.8" r="6.45" fill="#5651e0" stroke="#4038b8" stroke-width="0.7"/>
<circle cx="439.2" cy="405.0" r="6.45" fill="#5651e0" stroke="#4038b8" stroke-width="0.7"/>
<circle cx="455.8" cy="403.1" r="6.45" fill="#5651e0" stroke="#4038b8" stroke-width="0.7"/>
<circle cx="361.5" cy="407.3" r="6.45" fill="#5651e0" stroke="#4038b8" stroke-width="0.7"/>
<circle cx="380.1" cy="415.6" r="6.45" fill="#5651e0" stroke="#4038b8" stroke-width="0.7"/>
<circle cx="403.9" cy="412.3" r="6.45" fill="#5651e0" stroke="#4038b8" stroke-width="0.7"/>
<circle cx="412.7" cy="429.2" r="6.45" fill="#5651e0" stroke="#4038b8" stroke-width="0.7"/>
<circle cx="349.7" cy="430.0" r="6.45" fill="#5651e0" stroke="#4038b8" stroke-width="0.7"/>
<circle cx="375.8" cy="448.8" r="6.45" fill="#5651e0" stroke="#4038b8" stroke-width="0.7"/>
<circle cx="437.0" cy="453.0" r="6.45" fill="#5651e0" stroke="#4038b8" stroke-width="0.7"/>
<circle cx="352.7" cy="469.6" r="6.45" fill="#5651e0" stroke="#4038b8" stroke-width="0.7"/>
<circle cx="421.1" cy="467.6" r="6.45" fill="#5651e0" stroke="#4038b8" stroke-width="0.7"/>
<circle cx="401.5" cy="480.8" r="6.45" fill="#5651e0" stroke="#4038b8" stroke-width="0.7"/>
<circle cx="268.5" cy="404.3" r="6.45" fill="#de5346" stroke="#bf463b" stroke-width="0.7"/>
<circle cx="294.3" cy="413.1" r="6.45" fill="#de5346" stroke="#bf463b" stroke-width="0.7"/>
<circle cx="255.1" cy="430.9" r="6.45" fill="#de5346" stroke="#bf463b" stroke-width="0.7"/>
<circle cx="285.1" cy="442.7" r="6.45" fill="#de5346" stroke="#bf463b" stroke-width="0.7"/>
<circle cx="299.6" cy="453.6" r="6.45" fill="#de5346" stroke="#bf463b" stroke-width="0.7"/>
<circle cx="326.7" cy="456.5" r="6.45" fill="#de5346" stroke="#bf463b" stroke-width="0.7"/>
<circle cx="242.4" cy="465.5" r="6.45" fill="#de5346" stroke="#bf463b" stroke-width="0.7"/>
<circle cx="257.6" cy="466.4" r="6.45" fill="#de5346" stroke="#bf463b" stroke-width="0.7"/>
<circle cx="283.9" cy="476.0" r="6.45" fill="#de5346" stroke="#bf463b" stroke-width="0.7"/>
<circle cx="265.0" cy="485.8" r="6.45" fill="#de5346" stroke="#bf463b" stroke-width="0.7"/>
<circle cx="278.0" cy="490.0" r="6.45" fill="#de5346" stroke="#bf463b" stroke-width="0.7"/>
<circle cx="297.2" cy="499.3" r="6.45" fill="#de5346" stroke="#bf463b" stroke-width="0.7"/>
<circle cx="250.0" cy="509.6" r="6.45" fill="#de5346" stroke="#bf463b" stroke-width="0.7"/>
<text x="397.6" y="283.4" text-anchor="middle" class="lt">Ro-28-1675</text>
<text x="390.0" y="296.8" text-anchor="middle" class="lt">Canertinib</text>
<text x="363.7" y="305.3" text-anchor="middle" class="lt">Ursolic acid</text>
<text x="336.3" y="318.0" text-anchor="middle" class="lt">BRD-K85563610</text>
<text x="463.0" y="294.9" text-anchor="middle" class="lt">BRD-K41087962</text>
<text x="475.8" y="305.8" text-anchor="middle" class="lt">CI-976</text>
<text x="470.9" y="328.6" text-anchor="middle" class="lt">Parthenolide</text>
<text x="401.8" y="336.0" text-anchor="middle" class="lt">GPP78</text>
<text x="329.7" y="345.7" text-anchor="middle" class="lt">200484-11-3</text>
<text x="437.2" y="351.5" text-anchor="middle" class="lt">CHEBI:94110</text>
<text x="498.7" y="346.6" text-anchor="middle" class="lt">Crizotinib</text>
<text x="362.4" y="356.8" text-anchor="middle" class="lt">STF-31</text>
<text x="492.9" y="361.9" text-anchor="middle" class="lt">SpOx1_002925</text>
<text x="399.9" y="369.9" text-anchor="middle" class="lt">PIK-75</text>
<text x="468.2" y="374.6" text-anchor="middle" class="lt">BRD6708</text>
<text x="342.7" y="375.7" text-anchor="middle" class="lt">Daporinad</text>
<text x="441.0" y="386.6" text-anchor="middle" class="lt">Compound-10b</text>
<text x="365.2" y="391.2" text-anchor="middle" class="lt">Trametinib</text>
<text x="420.0" y="395.5" text-anchor="middle" class="lt">Erastin</text>
<text x="402.2" y="404.1" text-anchor="middle" class="lt">Aacocf3</text>
<text x="480.2" y="406.4" text-anchor="middle" class="lt">Gefitinib</text>
<text x="336.2" y="409.9" text-anchor="middle" class="lt">Paclitaxel</text>
<text x="442.3" y="417.7" text-anchor="middle" class="lt">Bosutinib</text>
<text x="280.5" y="427.2" text-anchor="middle" class="lt">ML-210</text>
<text x="434.2" y="432.3" text-anchor="middle" class="lt">ML320</text>
<text x="322.5" y="433.5" text-anchor="middle" class="lt">Rapamycin</text>
<text x="334.9" y="448.6" text-anchor="middle" class="lt">Manumycin-A</text>
<text x="368.6" y="461.3" text-anchor="middle" class="lt">MK-2206</text>
<text x="458.5" y="456.5" text-anchor="middle" class="lt">Afatinib</text>
<text x="354.6" y="483.5" text-anchor="middle" class="lt">Navitoclax</text>
<text x="453.9" y="471.9" text-anchor="middle" class="lt">Austocystin D</text>
<text x="433.7" y="484.6" text-anchor="middle" class="lt">Temsirolimus</text>
<text x="399.7" y="446.1" class="lt">1170689</text>
<text x="399.7" y="454.0" class="lt">-68-5</text>
<text x="251.3" y="408.3" text-anchor="middle" class="bd">5-FU</text>
<text x="300.5" y="403.0" text-anchor="middle" class="bd">Ceralasertib</text>
<text x="221.8" y="433.7" text-anchor="middle" class="bd">Gemcitabine</text>
<text x="252.8" y="448.5" text-anchor="middle" class="bd">Methotrexate</text>
<text x="263.9" y="457.6" text-anchor="middle" class="bd">Cisplatin</text>
<text x="217.2" y="467.6" text-anchor="middle" class="bd">Olaparib</text>
<text x="299.6" y="467.0" text-anchor="middle" class="bd">Etoposide</text>
<text x="303.8" y="478.4" text-anchor="middle" class="bd">CD437</text>
<text x="229.1" y="488.4" text-anchor="middle" class="bd">Camptothecin</text>
<text x="308.9" y="491.1" text-anchor="middle" class="bd">Doxorubicin</text>
<text x="251.4" y="501.6" text-anchor="middle" class="bd">Multidrug</text>
<text x="297.4" y="513.7" text-anchor="middle" class="bd">MK-1775</text>
<text x="344.7" y="420.8" text-anchor="middle" class="bd">Bleomycin-a2</text>
<text x="0.9" y="371.6" class="lab">D</text>
<line x1="62.3" y1="391.9" x2="62.3" y2="494.3" class="ax"/>
<line x1="62.3" y1="494.3" x2="159.8" y2="494.3" class="ax"/>
<line x1="59.9" y1="494.3" x2="62.3" y2="494.3" class="ax"/>
<text x="51.3" y="496.9" text-anchor="middle">0.0</text>
<line x1="59.9" y1="468.7" x2="62.3" y2="468.7" class="ax"/>
<text x="51.3" y="471.3" text-anchor="middle">0.2</text>
<line x1="59.9" y1="443.1" x2="62.3" y2="443.1" class="ax"/>
<text x="51.3" y="445.7" text-anchor="middle">0.4</text>
<line x1="59.9" y1="417.5" x2="62.3" y2="417.5" class="ax"/>
<text x="51.3" y="420.1" text-anchor="middle">0.6</text>
<line x1="59.9" y1="391.9" x2="62.3" y2="391.9" class="ax"/>
<text x="51.3" y="394.5" text-anchor="middle">0.8</text>
<line x1="80.0" y1="494.3" x2="80.0" y2="496.8" class="ax"/>
<line x1="111.6" y1="494.3" x2="111.6" y2="496.8" class="ax"/>
<line x1="142.5" y1="494.3" x2="142.5" y2="496.8" class="ax"/>
<text transform="translate(31.4 443.2) rotate(-90)" text-anchor="middle" font-size="7.9">Assembly importance score</text>
<text transform="translate(39.3 441.3) rotate(-90)" text-anchor="middle">(mean SI assigned by models)</text>
<text x="73.8" y="507.3" text-anchor="middle">Discovery</text>
<text x="73.8" y="515.0" text-anchor="middle">RSi drug</text>
<text x="73.8" y="522.7" text-anchor="middle">models</text>
<text x="111.6" y="507.3" text-anchor="middle">Test</text>
<text x="111.6" y="515.0" text-anchor="middle">RSi drug</text>
<text x="111.6" y="522.7" text-anchor="middle">models</text>
<text x="146.2" y="507.3" text-anchor="middle">Non-RSi</text>
<text x="146.2" y="515.0" text-anchor="middle">drug</text>
<text x="146.2" y="522.7" text-anchor="middle">models</text>
<text x="110.3" y="482.1" text-anchor="middle" font-size="7.6">Showing RSi assemblies</text>
<text x="111.0" y="489.6" text-anchor="middle" font-size="7.6">(<tspan font-style="italic">n</tspan> = 41)</text>
<line x1="79.6" y1="378.1" x2="142.4" y2="378.1" class="ax"/>
<line x1="112.0" y1="391.3" x2="142.0" y2="391.3" class="ax"/>
<text x="81.4" y="374.5" class="pv"><tspan font-size="6" dy="-2.4" letter-spacing="0.5">***</tspan><tspan font-style="italic" dy="2.4">P</tspan> = 1 × 10<tspan font-size="5.8" dy="-3.0">−12</tspan></text>
<text x="103.6" y="387.6" class="pv"><tspan font-size="6" dy="-2.4" letter-spacing="0.5">***</tspan><tspan font-style="italic" dy="2.4">P</tspan> = 2 × 10<tspan font-size="5.8" dy="-3.0">−8</tspan></text>
<circle cx="76.85" cy="403.40" r="0.95" fill="#3d3d9c"/>
<circle cx="79.00" cy="403.40" r="0.95" fill="#3d3d9c"/>
<circle cx="81.15" cy="403.40" r="0.95" fill="#3d3d9c"/>
<circle cx="79.00" cy="406.20" r="0.95" fill="#3d3d9c"/>
<circle cx="79.00" cy="410.00" r="0.95" fill="#3d3d9c"/>
<circle cx="76.85" cy="414.40" r="0.95" fill="#3d3d9c"/>
<circle cx="79.00" cy="414.40" r="0.95" fill="#3d3d9c"/>
<circle cx="81.15" cy="414.40" r="0.95" fill="#3d3d9c"/>
<circle cx="76.85" cy="416.60" r="0.95" fill="#3d3d9c"/>
<circle cx="79.00" cy="416.60" r="0.95" fill="#3d3d9c"/>
<circle cx="81.15" cy="416.60" r="0.95" fill="#3d3d9c"/>
<circle cx="76.85" cy="418.80" r="0.95" fill="#3d3d9c"/>
<circle cx="79.00" cy="418.80" r="0.95" fill="#3d3d9c"/>
<circle cx="81.15" cy="418.80" r="0.95" fill="#3d3d9c"/>
<circle cx="76.85" cy="421.00" r="0.95" fill="#3d3d9c"/>
<circle cx="79.00" cy="421.00" r="0.95" fill="#3d3d9c"/>
<circle cx="81.15" cy="421.00" r="0.95" fill="#3d3d9c"/>
<circle cx="79.00" cy="423.50" r="0.95" fill="#3d3d9c"/>
<circle cx="75.78" cy="426.80" r="0.95" fill="#3d3d9c"/>
<circle cx="77.92" cy="426.80" r="0.95" fill="#3d3d9c"/>
<circle cx="80.08" cy="426.80" r="0.95" fill="#3d3d9c"/>
<circle cx="82.22" cy="426.80" r="0.95" fill="#3d3d9c"/>
<circle cx="74.70" cy="429.00" r="0.95" fill="#3d3d9c"/>
<circle cx="76.85" cy="429.00" r="0.95" fill="#3d3d9c"/>
<circle cx="79.00" cy="429.00" r="0.95" fill="#3d3d9c"/>
<circle cx="81.15" cy="429.00" r="0.95" fill="#3d3d9c"/>
<circle cx="83.30" cy="429.00" r="0.95" fill="#3d3d9c"/>
<circle cx="73.62" cy="431.30" r="0.95" fill="#3d3d9c"/>
<circle cx="75.78" cy="431.30" r="0.95" fill="#3d3d9c"/>
<circle cx="77.92" cy="431.30" r="0.95" fill="#3d3d9c"/>
<circle cx="80.08" cy="431.30" r="0.95" fill="#3d3d9c"/>
<circle cx="82.22" cy="431.30" r="0.95" fill="#3d3d9c"/>
<circle cx="84.38" cy="431.30" r="0.95" fill="#3d3d9c"/>
<circle cx="71.47" cy="433.60" r="0.95" fill="#3d3d9c"/>
<circle cx="73.62" cy="433.60" r="0.95" fill="#3d3d9c"/>
<circle cx="75.78" cy="433.60" r="0.95" fill="#3d3d9c"/>
<circle cx="77.92" cy="433.60" r="0.95" fill="#3d3d9c"/>
<circle cx="80.08" cy="433.60" r="0.95" fill="#3d3d9c"/>
<circle cx="82.22" cy="433.60" r="0.95" fill="#3d3d9c"/>
<circle cx="84.38" cy="433.60" r="0.95" fill="#3d3d9c"/>
<circle cx="86.53" cy="433.60" r="0.95" fill="#3d3d9c"/>
<circle cx="73.62" cy="435.90" r="0.95" fill="#3d3d9c"/>
<circle cx="75.78" cy="435.90" r="0.95" fill="#3d3d9c"/>
<circle cx="77.92" cy="435.90" r="0.95" fill="#3d3d9c"/>
<circle cx="80.08" cy="435.90" r="0.95" fill="#3d3d9c"/>
<circle cx="82.22" cy="435.90" r="0.95" fill="#3d3d9c"/>
<circle cx="84.38" cy="435.90" r="0.95" fill="#3d3d9c"/>
<circle cx="77.92" cy="437.60" r="0.95" fill="#3d3d9c"/>
<circle cx="80.08" cy="437.60" r="0.95" fill="#3d3d9c"/>
<circle cx="110.60" cy="404.90" r="0.95" fill="#3d3d9c"/>
<circle cx="109.52" cy="409.60" r="0.95" fill="#3d3d9c"/>
<circle cx="111.67" cy="409.60" r="0.95" fill="#3d3d9c"/>
<circle cx="110.60" cy="411.40" r="0.95" fill="#3d3d9c"/>
<circle cx="110.60" cy="414.70" r="0.95" fill="#3d3d9c"/>
<circle cx="110.60" cy="418.00" r="0.95" fill="#3d3d9c"/>
<circle cx="109.52" cy="420.60" r="0.95" fill="#3d3d9c"/>
<circle cx="111.67" cy="420.60" r="0.95" fill="#3d3d9c"/>
<circle cx="109.52" cy="423.00" r="0.95" fill="#3d3d9c"/>
<circle cx="111.67" cy="423.00" r="0.95" fill="#3d3d9c"/>
<circle cx="107.38" cy="425.10" r="0.95" fill="#3d3d9c"/>
<circle cx="109.52" cy="425.10" r="0.95" fill="#3d3d9c"/>
<circle cx="111.67" cy="425.10" r="0.95" fill="#3d3d9c"/>
<circle cx="113.82" cy="425.10" r="0.95" fill="#3d3d9c"/>
<circle cx="108.45" cy="427.00" r="0.95" fill="#3d3d9c"/>
<circle cx="110.60" cy="427.00" r="0.95" fill="#3d3d9c"/>
<circle cx="112.75" cy="427.00" r="0.95" fill="#3d3d9c"/>
<circle cx="109.52" cy="430.00" r="0.95" fill="#3d3d9c"/>
<circle cx="111.67" cy="430.00" r="0.95" fill="#3d3d9c"/>
<circle cx="108.45" cy="432.30" r="0.95" fill="#3d3d9c"/>
<circle cx="110.60" cy="432.30" r="0.95" fill="#3d3d9c"/>
<circle cx="112.75" cy="432.30" r="0.95" fill="#3d3d9c"/>
<circle cx="107.38" cy="434.80" r="0.95" fill="#3d3d9c"/>
<circle cx="109.52" cy="434.80" r="0.95" fill="#3d3d9c"/>
<circle cx="111.67" cy="434.80" r="0.95" fill="#3d3d9c"/>
<circle cx="113.82" cy="434.80" r="0.95" fill="#3d3d9c"/>
<circle cx="99.85" cy="437.50" r="0.95" fill="#3d3d9c"/>
<circle cx="102.00" cy="437.50" r="0.95" fill="#3d3d9c"/>
<circle cx="104.15" cy="437.50" r="0.95" fill="#3d3d9c"/>
<circle cx="106.30" cy="437.50" r="0.95" fill="#3d3d9c"/>
<circle cx="108.45" cy="437.50" r="0.95" fill="#3d3d9c"/>
<circle cx="110.60" cy="437.50" r="0.95" fill="#3d3d9c"/>
<circle cx="112.75" cy="437.50" r="0.95" fill="#3d3d9c"/>
<circle cx="114.90" cy="437.50" r="0.95" fill="#3d3d9c"/>
<circle cx="117.05" cy="437.50" r="0.95" fill="#3d3d9c"/>
<circle cx="119.20" cy="437.50" r="0.95" fill="#3d3d9c"/>
<circle cx="121.35" cy="437.50" r="0.95" fill="#3d3d9c"/>
<circle cx="105.22" cy="439.70" r="0.95" fill="#3d3d9c"/>
<circle cx="107.38" cy="439.70" r="0.95" fill="#3d3d9c"/>
<circle cx="109.52" cy="439.70" r="0.95" fill="#3d3d9c"/>
<circle cx="111.67" cy="439.70" r="0.95" fill="#3d3d9c"/>
<circle cx="113.82" cy="439.70" r="0.95" fill="#3d3d9c"/>
<circle cx="115.97" cy="439.70" r="0.95" fill="#3d3d9c"/>
<circle cx="108.45" cy="442.00" r="0.95" fill="#3d3d9c"/>
<circle cx="110.60" cy="442.00" r="0.95" fill="#3d3d9c"/>
<circle cx="112.75" cy="442.00" r="0.95" fill="#3d3d9c"/>
<circle cx="110.60" cy="444.20" r="0.95" fill="#3d3d9c"/>
<circle cx="110.60" cy="448.40" r="0.95" fill="#3d3d9c"/>
<line x1="66.3" y1="425.5" x2="92.0" y2="425.5" class="med"/>
<line x1="98.0" y1="430.5" x2="123.5" y2="430.5" class="med"/>
<line x1="129.6" y1="443.5" x2="155.2" y2="443.5" class="med"/>
<circle cx="140.53" cy="420.00" r="0.95" fill="#86b6e8"/>
<circle cx="142.67" cy="420.00" r="0.95" fill="#86b6e8"/>
<circle cx="140.53" cy="424.00" r="0.95" fill="#86b6e8"/>
<circle cx="142.67" cy="424.00" r="0.95" fill="#86b6e8"/>
<circle cx="141.60" cy="428.70" r="0.95" fill="#86b6e8"/>
<circle cx="141.60" cy="432.00" r="0.95" fill="#86b6e8"/>
<circle cx="141.60" cy="434.50" r="0.95" fill="#86b6e8"/>
<circle cx="139.45" cy="437.40" r="0.95" fill="#86b6e8"/>
<circle cx="141.60" cy="437.40" r="0.95" fill="#86b6e8"/>
<circle cx="143.75" cy="437.40" r="0.95" fill="#86b6e8"/>
<circle cx="138.38" cy="439.60" r="0.95" fill="#86b6e8"/>
<circle cx="140.53" cy="439.60" r="0.95" fill="#86b6e8"/>
<circle cx="142.67" cy="439.60" r="0.95" fill="#86b6e8"/>
<circle cx="144.82" cy="439.60" r="0.95" fill="#86b6e8"/>
<circle cx="139.45" cy="442.00" r="0.95" fill="#86b6e8"/>
<circle cx="141.60" cy="442.00" r="0.95" fill="#86b6e8"/>
<circle cx="143.75" cy="442.00" r="0.95" fill="#86b6e8"/>
<circle cx="138.38" cy="444.60" r="0.95" fill="#86b6e8"/>
<circle cx="140.53" cy="444.60" r="0.95" fill="#86b6e8"/>
<circle cx="142.67" cy="444.60" r="0.95" fill="#86b6e8"/>
<circle cx="144.82" cy="444.60" r="0.95" fill="#86b6e8"/>
<circle cx="137.30" cy="446.80" r="0.95" fill="#86b6e8"/>
<circle cx="139.45" cy="446.80" r="0.95" fill="#86b6e8"/>
<circle cx="141.60" cy="446.80" r="0.95" fill="#86b6e8"/>
<circle cx="143.75" cy="446.80" r="0.95" fill="#86b6e8"/>
<circle cx="145.90" cy="446.80" r="0.95" fill="#86b6e8"/>
<circle cx="129.78" cy="449.60" r="0.95" fill="#86b6e8"/>
<circle cx="131.92" cy="449.60" r="0.95" fill="#86b6e8"/>
<circle cx="134.07" cy="449.60" r="0.95" fill="#86b6e8"/>
<circle cx="136.22" cy="449.60" r="0.95" fill="#86b6e8"/>
<circle cx="138.38" cy="449.60" r="0.95" fill="#86b6e8"/>
<circle cx="140.53" cy="449.60" r="0.95" fill="#86b6e8"/>
<circle cx="142.67" cy="449.60" r="0.95" fill="#86b6e8"/>
<circle cx="144.82" cy="449.60" r="0.95" fill="#86b6e8"/>
<circle cx="146.97" cy="449.60" r="0.95" fill="#86b6e8"/>
<circle cx="149.12" cy="449.60" r="0.95" fill="#86b6e8"/>
<circle cx="151.28" cy="449.60" r="0.95" fill="#86b6e8"/>
<circle cx="153.42" cy="449.60" r="0.95" fill="#86b6e8"/>
<circle cx="137.30" cy="451.80" r="0.95" fill="#86b6e8"/>
<circle cx="139.45" cy="451.80" r="0.95" fill="#86b6e8"/>
<circle cx="141.60" cy="451.80" r="0.95" fill="#86b6e8"/>
<circle cx="143.75" cy="451.80" r="0.95" fill="#86b6e8"/>
<circle cx="145.90" cy="451.80" r="0.95" fill="#86b6e8"/>
<circle cx="140.53" cy="454.00" r="0.95" fill="#86b6e8"/>
<circle cx="142.67" cy="454.00" r="0.95" fill="#86b6e8"/>
<circle cx="140.53" cy="459.00" r="0.95" fill="#86b6e8"/>
<circle cx="142.67" cy="459.00" r="0.95" fill="#86b6e8"/>
</svg></body></html>
